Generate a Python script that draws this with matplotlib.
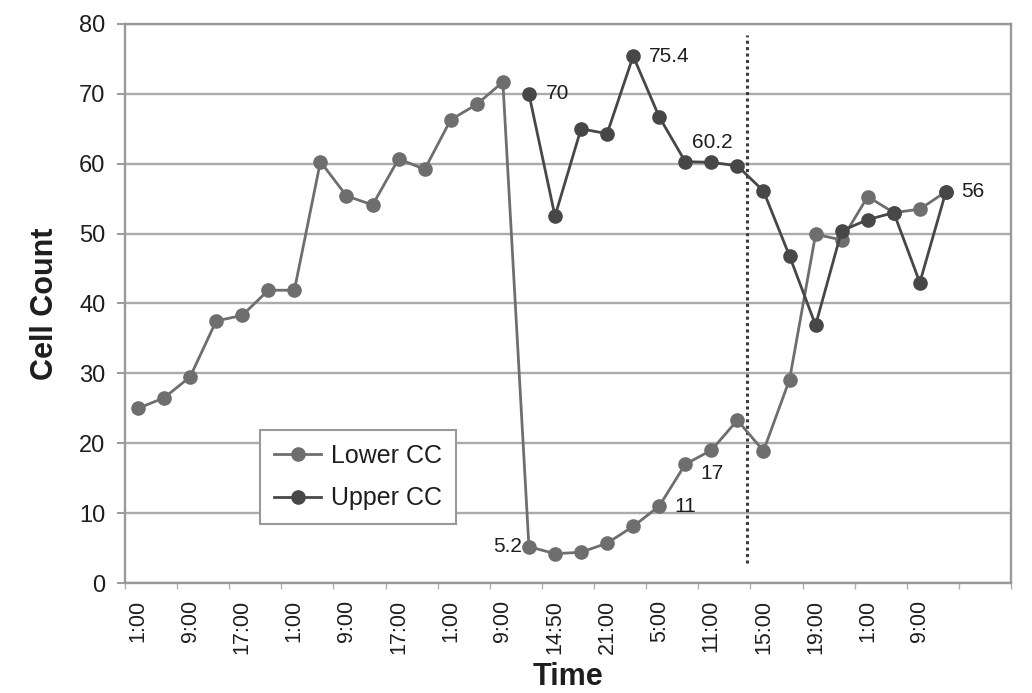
import numpy as np
import matplotlib.pyplot as plt

plt.rcParams['font.family'] = ['Liberation Sans', 'DejaVu Sans']

# categories along the time axis (a label on every second one)
n_categories = 34
tick_labels = ["1:00", "9:00", "17:00", "1:00", "9:00", "17:00", "1:00", "9:00",
               "14:50", "21:00", "5:00", "11:00", "15:00", "19:00", "1:00", "9:00"]

lower_cc = [25.0, 26.5, 29.5, 37.5, 38.3, 41.9, 41.9, 60.3, 55.4, 54.1, 60.7,
            59.2, 66.3, 68.5, 71.7, 5.2, 4.2, 4.4, 5.7, 8.1, 11.0, 17.0, 19.0,
            23.3, 18.9, 29.1, 49.9, 49.1, 55.3, 53.0, 53.5, 56.0]
upper_start = 15
upper_cc = [70.0, 52.5, 65.0, 64.3, 75.4, 66.7, 60.3, 60.2, 59.7, 56.1, 46.8,
            36.9, 50.4, 52.0, 53.0, 43.0, 56.0]

# value labels: (index, text)
lower_labels = [(15, "5.2"), (20, "11"), (21, "17")]
upper_labels = [(15, "70"), (19, "75.4"), (22, "60.2"), (31, "56")]

# dotted divider
divider_pos = 23.36
divider_range = (2.9, 78.4)

lower_color = '#6e6e6e'
upper_color = '#474747'
text_color = '#1e1e1e'

fig = plt.figure(figsize=(10.32, 6.93), dpi=100)
ax = fig.add_axes([0.1211, 0.1587, 0.9797 - 0.1211, 0.9654 - 0.1587])

x_lower = np.arange(len(lower_cc))
x_upper = np.arange(upper_start, upper_start + len(upper_cc))

ax.plot(x_lower, lower_cc, color=lower_color, lw=2, marker='o', ms=9.5,
        label='Lower CC', zorder=3)
ax.plot(x_upper, upper_cc, color=upper_color, lw=2, marker='o', ms=9.5,
        label='Upper CC', zorder=4)

ax.plot([divider_pos, divider_pos], divider_range, color='#3c3c3c', ls=(0, (1, 1.1)),
        lw=2.2, zorder=2)

# label placement
offsets = {
    "5.2": ((-5, 0), 'right', 'center'),
    "11": ((11, 0), 'left', 'center'),
    "17": ((11, -7), 'left', 'center'),
    "70": ((12, 0), 'left', 'center'),
    "75.4": ((11, 0), 'left', 'center'),
    "60.2": ((1, 14), 'center', 'center'),
    "56": ((11, 0), 'left', 'center'),
}
for series, start, labels in ((lower_cc, 0, lower_labels), (upper_cc, upper_start, upper_labels)):
    for i, txt in labels:
        off, ha, va = offsets[txt]
        ax.annotate(txt, (i, series[i - start]), xytext=off, textcoords='offset points',
                    ha=ha, va=va, fontsize=15, color=text_color)

ax.set_xlim(-0.5, n_categories - 0.5)
ax.set_ylim(0, 80)

ax.set_yticks(np.arange(0, 81, 10))
ax.yaxis.grid(True, color='#ababab', lw=1.7)
ax.set_axisbelow(True)
ax.tick_params(axis='y', length=6, width=1.4, color='#9a9a9a', pad=8,
               labelsize=17, labelcolor=text_color)

ax.set_xticks(np.arange(-0.5, n_categories, 2))
ax.set_xticklabels([])
ax.set_xticks(np.arange(0, 2 * len(tick_labels), 2), minor=True)
ax.set_xticklabels(tick_labels, minor=True, rotation=90)
ax.tick_params(axis='x', which='major', length=4, width=1, color='#b0b0b0')
ax.tick_params(axis='x', which='minor', length=0, pad=12, labelsize=15.5,
               labelcolor=text_color)

for side in ['left', 'bottom', 'right', 'top']:
    ax.spines[side].set_color('#999999')
    ax.spines[side].set_linewidth(1.7)

ax.set_xlabel('Time', fontsize=22, fontweight='bold', color=text_color, labelpad=6)
ax.set_ylabel('Cell Count', fontsize=22, fontweight='bold', color=text_color, labelpad=14)

leg = ax.legend(loc='lower left', bbox_to_anchor=(0.1524, 0.1055), fontsize=18,
                frameon=True, fancybox=False, edgecolor='#999999', framealpha=1,
                borderaxespad=0, handlelength=1.9, handletextpad=0.4,
                labelspacing=0.75, borderpad=0.55)
leg.get_frame().set_linewidth(1.5)
for t in leg.get_texts():
    t.set_color(text_color)

fig.savefig('out.png', dpi=100, facecolor='white')
